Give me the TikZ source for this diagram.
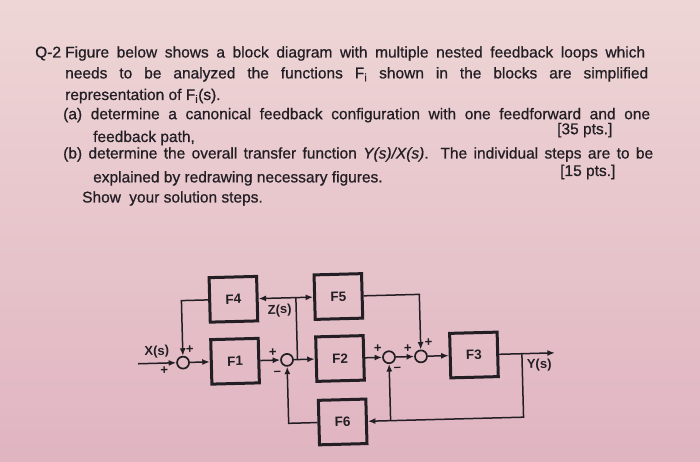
\documentclass[tikz,border=0pt]{standalone}
\usepackage{fontspec}
\setmainfont{Liberation Sans}
\newfontfamily\heavy[FakeBold=0.7]{Liberation Sans}
\usetikzlibrary{arrows.meta}
\definecolor{ink}{RGB}{34,30,36}
\definecolor{bgtop}{RGB}{238,214,214}
\definecolor{bgbot}{RGB}{224,180,193}
\tikzset{
  txt/.style={anchor=base west, inner sep=0, text=ink, font=\heavy\fontsize{15.5}{18}\selectfont},
  blk/.style={draw=ink, line width=3pt, minimum width=47.5pt, minimum height=44.5pt, inner sep=0, text=ink, font=\bfseries\fontsize{13.5}{13.5}\selectfont},
  sm/.style={circle, draw=ink, line width=1.7pt, minimum size=12pt, inner sep=0},
  con/.style={draw=ink, line width=1.5pt},
  arr/.style={con, -{Latex[length=7.5pt,width=6pt]}},
  lbl/.style={inner sep=0, text=ink, font=\bfseries\fontsize{13}{13}\selectfont},
  sg/.style={inner sep=0, text=ink, font=\bfseries\fontsize{13}{13}\selectfont}
}
\begin{document}
\begin{tikzpicture}[x=1pt,y=-1pt]
\useasboundingbox (0,0) rectangle (700,462);
\shade[top color=bgtop, bottom color=bgbot] (0,0) rectangle (700,462);
% question text
\node[txt] (q) at (35,57.5) {Q-2};
\node[txt] (l1) at (65,57.5) {\makebox[580pt][s]{Figure below shows a block diagram with multiple nested feedback loops which}};
\node[txt] (l2) at (65,78.4) {\makebox[583pt][s]{needs to be analyzed the functions F\textsubscript{i} shown in the blocks are simplified}};
\node[txt] (l3) at (65,100) {representation of F\textsubscript{i}(s).};
\node[txt] (l4) at (63,119.2) {\makebox[587pt][s]{(a) determine a canonical feedback configuration with one feedforward and one}};
\node[txt] (l5) at (93,142) {feedback path,};
\node[txt] (p1) at (557,134.2) {[35 pts.]};
\node[txt] (l6) at (63,158.5) {\makebox[590pt][s]{(b) determine the overall transfer function \textit{Y(s)/X(s)}. The individual steps are to be}};
\node[txt] (l7) at (93,182.4) {explained by redrawing necessary figures.};
\node[txt] (p2) at (560,176) {[15 pts.]};
\node[txt] (l8) at (82,202.5) {Show\hspace{4pt} your solution steps.};
% block diagram
\begin{scope}[rotate around={1.5:(340,358.5)}, transform shape]
\node[blk] (F4) at (235,296.5) {F4};
\node[blk] (F5) at (340,296.5) {F5};
\node[blk] (F1) at (235,358.5) {F1};
\node[blk] (F2) at (340,358.5) {F2};
\node[blk] (F6) at (341,422) {F6};
\node[blk] (F3) at (474,358.5) {F3};
\node[sm] (S1) at (183,358.5) {};
\node[sm] (S2) at (287,358.5) {};
\node[sm] (S3) at (389,358.5) {};
\node[sm] (S4) at (421,358.5) {};
\coordinate (in) at (138,358.5);
\coordinate (out) at (555,358.5);
\coordinate (zb) at (297.5,358.5);
\coordinate (zt) at (297.5,296.5);
\coordinate (yb) at (522,358.5);
\coordinate (s3d) at (389,422);
\draw[arr] (in) -- (S1);
\draw[arr] (S1) -- (F1);
\draw[arr] (F1) -- (S2);
\draw[arr] (S2) -- (F2);
\draw[con] (zb) -- (zt);
\draw[arr] (zt) -- (F4);
\draw[arr] (zt) -- (F5);
\draw[arr] (F4) -| (S1);
\draw[arr] (F5) -| (S4);
\draw[arr] (F2) -- (S3);
\draw[arr] (S3) -- (S4);
\draw[arr] (S4) -- (F3);
\draw[arr] (F3) -- (out);
\draw[arr] (yb) |- (F6);
\draw[arr] (s3d) -- (S3);
\draw[arr] (F6) -| (S2);
\node[lbl] (xs) at (157,347) {X(s)};
\node[lbl] (zs) at (281,309) {Z(s)};
\node[lbl] (ys) at (539,370.5) {Y(s)};
\node[sg] at (190,345.5) {+};
\node[sg] at (164,365.5) {+};
\node[sg] at (273,351) {+};
\node[sg] at (277,372) {–};
\node[sg] at (378,349.5) {+};
\node[sg] at (397,371) {–};
\node[sg] at (408,350) {+};
\node[sg] at (429,345) {+};
\end{scope}
\end{tikzpicture}
\end{document}
